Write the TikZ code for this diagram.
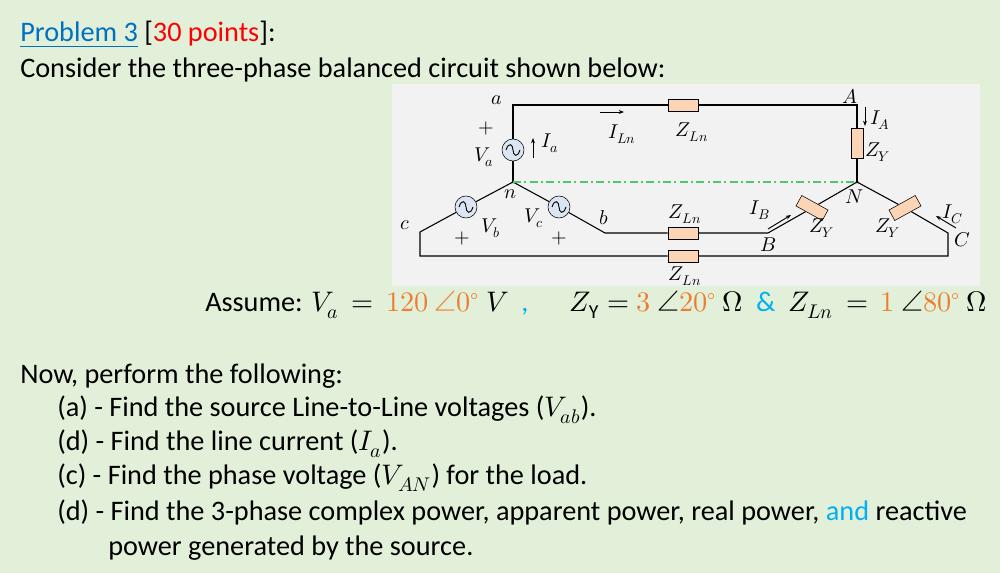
\documentclass[tikz,border=0pt]{standalone}
\usepackage{fontspec}
\usepackage{unicode-math}
\setmainfont{Carlito}
\setmathfont{Latin Modern Math}
\usetikzlibrary{arrows.meta,calc}
\definecolor{bg}{HTML}{E2F0D9}
\definecolor{box}{HTML}{F2F2F2}
\definecolor{res}{HTML}{FBD5B5}
\definecolor{src}{HTML}{DCE6F2}
\definecolor{ttl}{HTML}{0070C0}
\definecolor{org}{HTML}{ED7D31}
\definecolor{lb}{HTML}{00B0F0}
\definecolor{grn}{HTML}{4CC870}
\begin{document}
\begin{tikzpicture}[x=0.75pt,y=-0.75pt,
  txt/.style={anchor=base west,inner sep=0,font=\fontsize{21.2}{24}\selectfont},
  lab/.style={inner sep=0,font=\fontsize{15}{17}\selectfont},
  resh/.style={draw,fill=res,minimum width=22.5pt,minimum height=9pt,inner sep=0},
  resv/.style={draw,fill=res,minimum width=9pt,minimum height=22.5pt,inner sep=0},
  resd/.style={draw,fill=res,minimum width=22.5pt,minimum height=9pt,inner sep=0},
  srcs/.style={circle,draw,fill=src,minimum size=16.5pt,inner sep=0},
  w/.style={line width=0.8pt},
  ar/.style={-{Stealth[length=4pt]},line width=0.7pt}]
\fill[bg] (0,0) rectangle (1000,573);
\fill[box] (392,84) rectangle (980,286);
% title
\node[txt] (t1) at (20,42) {\textcolor{ttl}{\underline{Problem 3}} [\textcolor{red}{30 points}]:};
\node[txt] (t2) at (20,78) {Consider the three-phase balanced circuit shown below:};
% circuit coordinates
\coordinate (a) at (513,105);
\coordinate (A) at (857,105);
\coordinate (n) at (513,182);
\coordinate (N) at (857,182);
\coordinate (c) at (420,232);
\coordinate (b) at (605,233);
\coordinate (B) at (768,233);
\coordinate (C) at (948,233);
\coordinate (cb) at (420,256);
\coordinate (Cb) at (948,256);
\node[srcs] (Va) at (513,150) {};
\node[srcs] (Vb) at (466,207) {};
\node[srcs] (Vc) at (559,207) {};
\node[resh] (Z1) at (683,105) {};
\node[resh] (Z2) at (683,233) {};
\node[resh] (Z3) at (683,256) {};
\node[resv] (ZA) at (857,143) {};
\node[resd,rotate=-29] (ZB) at (812,208) {};
\node[resd,rotate=29] (ZC) at (905,208) {};
\draw[w] (n) -- (Va) -- (a) -- (Z1) -- (A) -- (ZA) -- (N);
\draw[w] (n) -- (Vb) -- (c) -- (cb) -- (Z3) -- (Cb) -- (C) -- (ZC) -- (N);
\draw[w] (n) -- (Vc) -- (b) -- (Z2) -- (B) -- (ZB) -- (N);
\foreach \s in {Va,Vb,Vc}{\draw[line width=0.7pt] ($(\s)+(-7,0)$) .. controls ($(\s)+(-4,-9)$) and ($(\s)+(0,-5)$) .. ($(\s)$) .. controls ($(\s)+(0,5)$) and ($(\s)+(4,9)$) .. ($(\s)+(7,0)$);}
\fill (n) circle (1.5);
\fill (N) circle (1.5);
\draw[grn,line width=1pt,dash pattern=on 6pt off 2.5pt on 1.5pt off 2.5pt] (n) -- (N);
% arrows
\coordinate (ila1) at (600,112); \coordinate (ila2) at (624,112);
\draw[ar] (ila1) -- (ila2);
\coordinate (ia1) at (533,158); \coordinate (ia2) at (533,138);
\draw[ar] (ia1) -- (ia2);
\coordinate (iA1) at (865,107); \coordinate (iA2) at (865,126);
\draw[ar] (iA1) -- (iA2);
\coordinate (iB1) at (768,229); \coordinate (iB2) at (791,215);
\draw[ar] (iB1) -- (iB2);
\coordinate (iC1) at (956,228); \coordinate (iC2) at (936,216);
\draw[ar] (iC1) -- (iC2);
% labels
\node[lab] (la) at (497,100) {$a$};
\node[lab] (lA) at (850,96) {$A$};
\node[lab] (lIln) at (622,134) {$I_{Ln}$};
\node[lab] (lZ1) at (692,132) {$Z_{Ln}$};
\node[lab] (lIa) at (550,143) {$I_a$};
\node[lab] (lp1) at (486,129) {$+$};
\node[lab] (lVa) at (484,157) {$V_a$};
\node[lab] (ln) at (510,194) {$n$};
\node[lab] (lc) at (405,225) {$c$};
\node[lab] (lVb) at (491,228) {$V_b$};
\node[lab] (lp2) at (462,239) {$+$};
\node[lab] (lVc) at (534,218) {$V_c$};
\node[lab] (lp3) at (559,239) {$+$};
\node[lab] (lb) at (604,218) {$b$};
\node[lab] (lZ2) at (685,214) {$Z_{Ln}$};
\node[lab] (lZ3) at (685,276) {$Z_{Ln}$};
\node[lab] (lIA) at (880,120) {$I_A$};
\node[lab] (lZA) at (878,152) {$Z_Y$};
\node[lab] (lN) at (855,197) {$N$};
\node[lab] (lIB) at (760,210) {$I_B$};
\node[lab] (lZB) at (822,228) {$Z_Y$};
\node[lab] (lB) at (768,245) {$B$};
\node[lab] (lZC) at (888,228) {$Z_Y$};
\node[lab] (lIC) at (953,214) {$I_C$};
\node[lab] (lC) at (962,240) {$C$};
% equation
\node[txt] (eq) at (205,312) {Assume: $V_a\,=\,\textcolor{org}{120}\ \textcolor{org}{\angle 0^\circ}\ V$\ \ \textcolor{lb}{,}\quad\ \ $Z_{\mathrm{Y}}=\textcolor{org}{3}\ \angle\textcolor{org}{20^\circ}\ \Omega$\ \ \textcolor{lb}{\&}\ \ $Z_{Ln}\,=\,\textcolor{org}{1}\ \angle\textcolor{org}{80^\circ}\ \Omega$};
% list
\node[txt] (l0) at (20,384) {Now, perform the following:};
\node[txt] (l1) at (57,417) {(a) - Find the source Line-to-Line voltages ($V_{ab}$).};
\node[txt] (l2) at (57,451) {(d) - Find the line current ($I_a$).};
\node[txt] (l3) at (57,485) {(c) - Find the phase voltage ($V_{AN}$) for the load.};
\node[txt] (l4) at (57,520) {(d) - Find the 3-phase complex power, apparent power, real power, \textcolor{lb}{and} reactive};
\node[txt] (l5) at (108,555) {power generated by the source.};
\end{tikzpicture}
\end{document}
